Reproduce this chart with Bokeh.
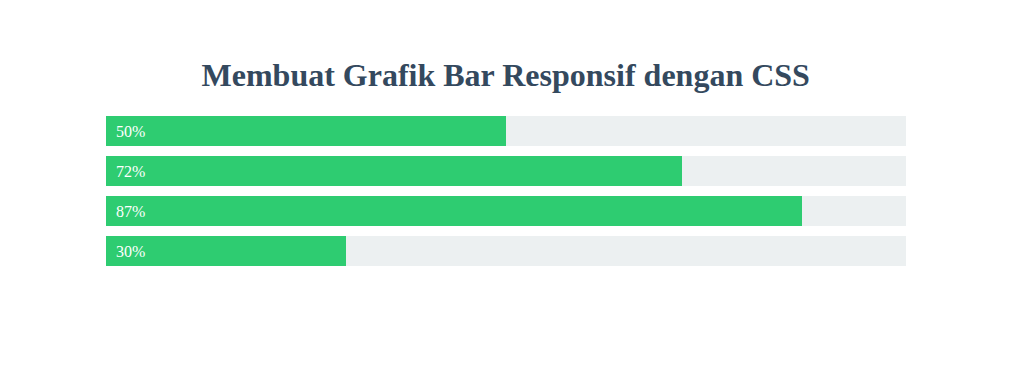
from bokeh.plotting import figure
from bokeh.models import Range1d, ColumnDataSource
from bokeh.core.properties import value
from bokeh.embed import file_html
from bokeh.resources import INLINE

title_text = "Membuat Grafik Bar Responsif dengan CSS"
percentages = [50, 72, 87, 30]
labels = [f"{v}%" for v in percentages]

W, H = 1019, 372
left_px, track_px = 105.5, 800
px_per_unit_x = track_px / 100.0
row_px = 40.0
first_center_px = 130.5

x_range = Range1d(-left_px / px_per_unit_x, (W - left_px) / px_per_unit_x)
y_top = -first_center_px / row_px
y_bottom = (H - first_center_px) / row_px
y_range = Range1d(y_bottom, y_top)

p = figure(width=W, height=H, x_range=x_range, y_range=y_range,
           output_backend="svg", toolbar_location=None,
           min_border=0, min_border_left=0, min_border_right=0,
           min_border_top=0, min_border_bottom=0)
p.axis.visible = False
p.grid.visible = False
p.outline_line_color = None
p.background_fill_color = "white"
p.border_fill_color = "white"

idx = list(range(len(percentages)))
src = ColumnDataSource(dict(y=idx, v=percentages, full=[100] * len(idx),
                            zero=[0] * len(idx), label=labels))

p.hbar(y="y", left="zero", right="full", height=0.75, source=src,
       fill_color="#ecf0f1", line_color=None)
p.hbar(y="y", left="zero", right="v", height=0.75, source=src,
       fill_color="#2ecc71", line_color=None)
p.text(x="zero", y="y", text="label", source=src, x_offset=10,
       text_color="white", text_font=value("Liberation Serif"),
       text_font_size="16px", text_baseline="middle", text_align="left")

p.text(x=[50], y=[y_top + 74.5 / row_px], text=[title_text],
       text_color="#34495e", text_font=value("Liberation Serif"),
       text_font_style="bold", text_font_size="32px",
       text_baseline="middle", text_align="center")

open("out.html", "w").write(file_html(p, INLINE))
